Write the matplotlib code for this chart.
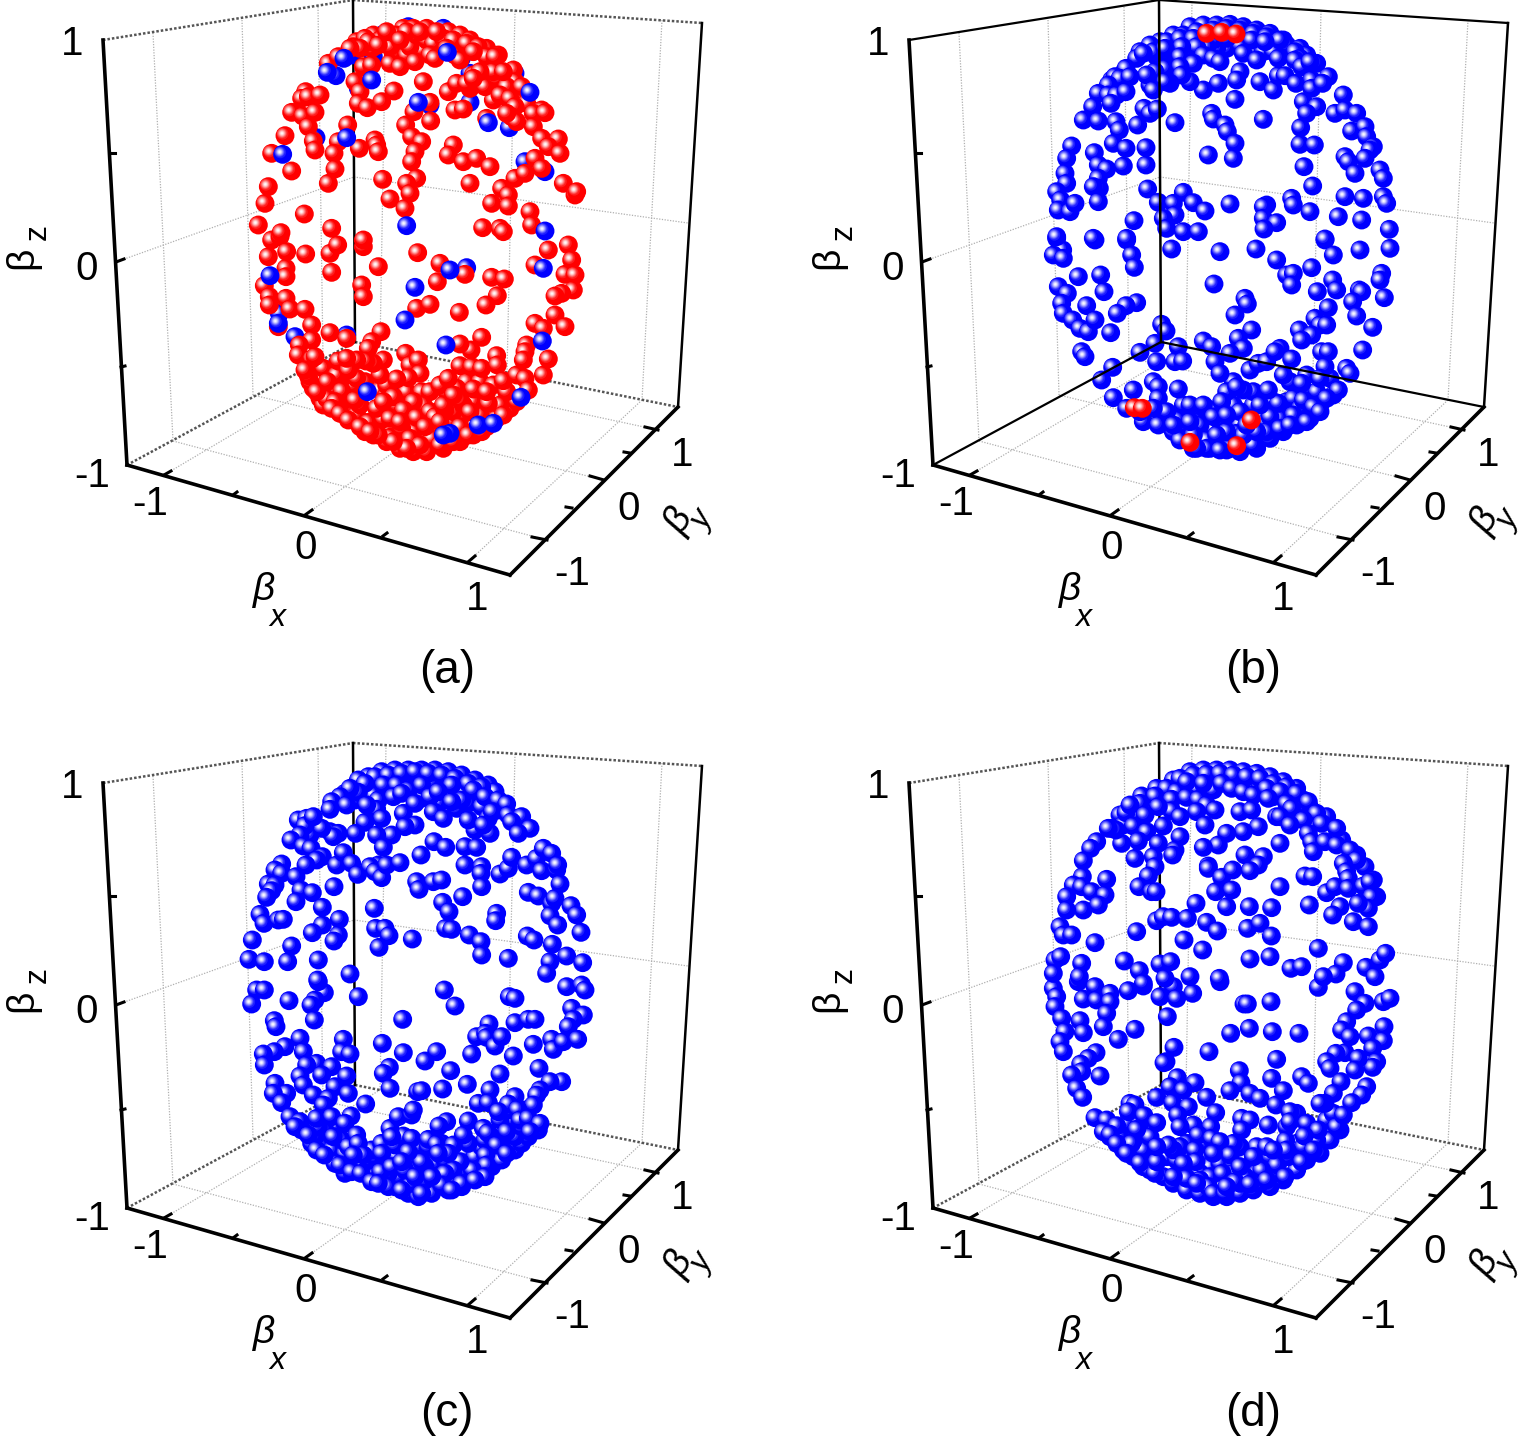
import numpy as np
import matplotlib
matplotlib.use("Agg")
import matplotlib.pyplot as plt

plt.rcParams['font.family'] = ['Liberation Sans', 'DejaVu Sans']

# ball centres, in 1/3 pixel steps inside each reading window
a_top_red = [(265,145),(295,125),(340,95),(385,80),(360,100),(450,95),(470,60),(510,95),(530,60),(560,75),(580,85),(610,70),(640,75),(680,85),(715,95),(740,125),(765,125),(480,155),(525,140),(570,120),(585,130),(645,120),(660,135),(370,155),(395,150),(345,200),(360,230),(355,265),(382,278),(425,260),(462,228),(550,200),(625,230),(650,205),(680,205),(700,180),(735,215),(770,190),(820,165),(825,200),(800,215),(780,240),(810,250),(825,275),(845,215),(645,285),(670,282),(570,262),(522,290),(497,330),(572,318),(515,365),(545,380),(525,410),(515,440),(530,490),(500,505),(510,535),(450,552),(495,580),(428,493),(197,230),(185,250),(205,245),(240,240),(155,292),(188,303),(225,292),(205,335),(323,330),(135,362),(295,380),(282,415),(285,462),(265,505),(358,400),(405,375),(410,390),(415,410),(220,378),(225,405),(95,415),(155,468),(85,515),(75,565),(193,597),(55,630),(123,653),(275,640),(640,390),(625,420),(670,440),(710,430),(750,455),(690,505),(755,565),(785,520),(805,540),(805,573),(825,490),(855,475),(870,590),(875,630),(728,638),(780,640),(790,650),(970,505),(1005,540),(1010,530),(905,285),(880,295),(915,293),(880,335),(905,370),(955,372),(925,395),(960,415),(885,430),(905,460),(815,305),(830,320),(800,295),(740,310),(330,100),(415,90),(500,50),(540,50),(590,50),(440,50),(480,75),(620,100),(700,110),(760,170),(720,170),(790,170),(700,190)]
a_top_red_dense = [(400,60),(420,75),(445,70),(490,40),(520,40),(560,40),(600,60),(625,50),(660,60),(690,75),(740,100),(775,120),(350,80),(375,70),(395,100),(460,120),(500,120),(545,105),(600,100),(450,145),(690,220),(720,195),(745,190),(780,215),(760,215),(790,200),(840,240),(860,265),(795,245),(760,255)]
a_top_blue_under = [(335,120),(288,182),(430,58),(355,220),(570,270),(580,115),(665,128),(655,65),(690,262),(808,338),(825,175),(690,175),(228,368),(855,440),(915,470),(505,35),(610,40),(545,60),(400,125)]
a_top_blue_over = [(312,130),(262,172),(395,195),(622,112),(745,323),(320,368),(128,418),(500,632),(915,648),(870,232),(535,262)]
a_bot_red = [(95,15),(120,5),(140,50),(85,65),(197,57),(270,55),(293,30),(275,112),(370,35),(370,15),(415,95),(533,53),(600,85),(592,140),(675,118),(755,127),(793,132),(772,182),(738,210),(985,30),(925,45),(995,75),(885,90),(975,118),(1005,120),(1000,165),(965,175),(945,183),(138,100),(138,125),(73,152),(88,185),(88,210),(138,190),(150,222),(195,223),(365,150),(370,185),(530,220),(570,208),(658,232),(945,240),(885,265),(975,275),(910,280),(115,275),(215,270),(215,315),(270,293),(320,310),(178,330),(175,360),(215,372),(225,365),(423,290),(395,320),(385,340),(497,355),(510,390),(535,375),(540,415),(505,428),(470,432),(420,420),(430,375),(400,385),(378,378),(350,375),(295,378),(325,405),(320,370),(205,422),(195,405),(230,470),(262,440),(305,468),(285,500),(275,520),(300,535),(325,555),(360,510),(345,495),(385,562),(360,575),(420,530),(430,552),(410,520),(450,607),(485,580),(460,485),(520,500),(490,525),(530,547),(510,610),(570,530),(585,545),(580,590),(615,525),(660,575),(600,450),(650,460),(660,495),(700,462),(745,505),(790,540),(690,530),(740,470),(660,392),(695,395),(725,400),(770,362),(772,390),(790,437),(830,420),(855,430),(860,330),(855,350),(850,375),(925,372),(910,420),(865,465),(725,307),(693,345),(660,327),(610,510),(640,480),(575,610),(540,630),(500,640),(600,630),(640,620),(460,620),(415,600),(390,590),(685,600),(725,590),(555,575),(450,550),(480,560),(430,500),(600,560),(625,430)]
a_bot_red_dense = [(240,490),(250,510),(290,520),(320,530),(345,545),(375,590),(400,600),(440,620),(480,640),(520,650),(560,650),(610,640),(660,620),(700,600),(740,575),(770,550),(810,520),(830,500),(220,460),(210,440),(255,470),(280,470),(340,450),(375,440),(420,465),(440,480),(470,510),(500,470),(545,470),(570,470),(620,470),(680,440),(720,440),(760,450),(800,470),(780,510),(720,540),(660,550),(630,560),(510,570),(470,590),(410,570),(350,540),(300,510),(260,490),(350,430),(300,440),(250,400),(290,420),(560,600),(600,600),(520,590),(450,580),(640,530),(700,500),(670,510),(550,510),(440,450)]
a_bot_blue_under = [(118,235),(165,305),(320,300),(290,390),(460,470),(512,482),(680,98),(490,620),(540,580),(635,560)]
a_bot_blue_over = [(90,122),(115,265),(382,470),(525,157),(495,255),(630,105),(618,330),(910,100),(907,318),(843,487),(715,570),(760,565),(630,595),(610,600)]

b_top_blue = [(430,60),(470,50),(520,45),(560,40),(600,45),(640,55),(680,65),(720,75),(380,80),(420,70),(460,70),(500,95),(470,95),(425,95),(635,75),(610,115),(650,135),(675,80),(340,110),(310,115),(375,100),(420,125),(490,120),(520,130),(540,140),(460,145),(715,130),(765,110),(780,130),(765,135),(785,155),(810,140),(375,160),(420,155),(345,170),(320,180),(258,160),(225,185),(240,190),(270,185),(600,170),(660,200),(590,195),(535,205),(490,225),(450,200),(425,180),(390,205),(375,200),(340,225),(205,210),(175,235),(205,240),(230,240),(258,230),(213,265),(158,275),(130,315),(175,318),(228,320),(238,345),(293,330),(312,280),(330,295),(352,282),(405,323),(515,295),(520,312),(555,330),(562,350),(585,385),(580,430),(505,420),(670,313),(700,225),(715,182),(735,182),(768,205),(585,253),(815,195),(815,220),(790,260),(830,275),(800,295),(782,338),(780,388),(823,390),(792,455),(818,513),(865,185),(848,205),(910,240),(885,295),(915,285),(950,295),(935,348),(975,335),(980,365),(1000,395),(990,405),(915,425),(925,440),(975,430),(945,475),(1020,465),(1030,490),(95,393),(80,430),(75,475),(80,505),(50,530),(62,555),(55,585),(90,590),(105,565),(163,413),(175,450),(200,462),(175,490),(178,520),(160,515),(175,560),(220,385),(258,400),(250,453),(318,398),(318,450),(323,522),(355,562),(430,532),(460,563),(495,588),(570,567),(400,565),(405,600),(370,610),(380,640),(430,650),(475,650),(282,617),(680,570),(670,575),(755,550),(760,570),(810,590),(670,610),(710,623),(672,642),(895,605),(965,615),(915,545),(970,550),(1030,545),(1040,565),(1048,643),(50,665),(160,670),(260,670),(855,672)]
b_top_blue_dense = [(450,35),(490,30),(530,30),(570,28),(610,35),(650,45),(690,55),(730,75),(400,60),(360,80),(330,90),(300,110),(290,130),(350,125),(390,130),(380,115),(440,110),(740,90),(780,100),(800,120),(640,105),(670,110),(700,110),(560,100),(530,100),(600,90),(560,70),(520,75),(480,80),(250,175),(215,195),(350,200),(330,210),(390,180),(830,145)]
b_top_red = [(500,55),(545,52),(588,57)]
b_bot_blue = [(50,10),(165,15),(260,15),(395,42),(68,45),(40,60),(70,70),(275,60),(283,97),(115,125),(182,120),(192,170),(55,155),(82,175),(65,205),(140,212),(290,203),(258,212),(232,235),(70,235),(98,255),(120,280),(145,290),(165,255),(212,293),(365,268),(378,288),(125,350),(135,365),(300,352),(345,325),(350,380),(415,335),(405,380),(428,378),(218,397),(185,435),(280,465),(340,440),(355,455),(415,462),(220,488),(355,490),(260,520),(310,560),(355,570),(540,50),(648,42),(710,75),(815,98),(740,120),(760,115),(755,150),(855,15),(880,60),(960,45),(1050,40),(1025,115),(1020,135),(878,135),(890,165),(832,170),(958,165),(965,170),(938,200),(1033,188),(950,243),(998,277),(865,218),(825,250),(840,270),(860,270),(778,285),(815,300),(785,315),(968,345),(522,147),(615,190),(622,207),(585,240),(635,285),(490,318),(515,335),(595,310),(610,340),(570,355),(525,380),(540,415),(630,405),(655,385),(680,380),(720,340),(705,350),(755,372),(730,420),(845,350),(865,350),(855,395),(920,400),(930,415),(785,445),(840,430),(895,465),(790,495),(860,490),(820,515),(760,540),(715,505),(690,545),(685,465),(610,465),(560,470),(590,455),(540,555),(480,570),(415,555),(450,510),(490,510),(545,500),(660,510),(500,615),(545,620),(590,595),(420,615),(500,640),(640,630),(680,590),(720,580),(600,530),(520,545),(380,530),(400,570),(460,600),(570,640),(610,600),(650,590),(750,570),(800,560),(840,530),(340,520),(300,530),(620,570),(560,590),(530,600),(470,640),(540,645),(450,560),(560,540)]
b_bot_blue_dense = [(400,590),(430,600),(470,620),(510,640),(560,645),(600,650),(650,640),(690,610),(730,590),(770,570),(810,550),(840,510),(880,480),(430,510),(460,530),(500,520),(530,530),(580,510),(560,560),(600,560),(640,590),(680,560),(720,550),(480,590),(520,580),(560,580),(600,570),(540,590),(470,560),(430,570),(390,540),(640,510),(700,500),(740,500),(760,490),(780,520),(820,480),(750,440),(800,420),(870,430),(830,470),(640,470),(580,440),(460,640),(620,620)]
b_bot_red = [(283,518),(307,520),(634,555),(450,622),(590,632)]

c_top_blue = [(420,50),(460,45),(500,40),(540,35),(580,40),(620,45),(660,55),(700,70),(740,80),(390,70),(445,75),(485,75),(520,90),(560,75),(650,75),(715,90),(475,110),(500,100),(370,97),(345,85),(585,110),(610,95),(750,110),(790,120),(815,132),(315,110),(290,125),(335,135),(285,148),(425,148),(395,135),(505,160),(540,130),(595,155),(625,175),(665,145),(680,120),(650,125),(772,155),(820,165),(860,170),(830,185),(885,205),(850,220),(765,220),(720,210),(700,180),(745,195),(440,175),(390,187),(540,195),(510,200),(470,225),(425,225),(362,220),(310,220),(295,230),(260,205),(210,197),(235,170),(195,225),(168,240),(205,258),(228,265),(262,290),(245,300),(213,315),(305,315),(325,278),(350,310),(368,343),(430,315),(405,320),(420,335),(440,353),(455,315),(495,308),(445,262),(558,285),(597,245),(632,262),(690,260),(725,262),(690,315),(740,320),(738,340),(740,380),(795,342),(820,325),(830,292),(875,315),(905,295),(920,332),(925,265),(950,280),(965,330),(968,315),(975,372),(880,397),(910,408),(950,430),(960,415),(1008,437),(1025,465),(945,467),(968,495),(1038,517),(140,312),(120,330),(140,340),(183,350),(100,372),(120,375),(110,392),(95,412),(198,390),(232,398),(183,425),(297,380),(262,442),(75,463),(87,490),(130,480),(145,478),(313,478),(262,495),(232,518),(310,525),(297,543),(52,540),(170,558),(42,598),(88,605),(158,605),(250,600),(248,660),(345,642),(418,445),(422,505),(450,505),(462,527),(432,562),(532,537),(545,365),(552,388),(595,365),(620,360),(623,427),(642,455),(683,410),(785,460),(782,482),(632,505),(650,508),(703,525),(738,545),(740,585),(820,595),(877,528),(897,540),(952,553),(995,588),(945,605),(935,640),(1043,608)]
c_top_blue_dense = [(440,35),(480,30),(520,30),(560,30),(600,30),(640,35),(680,45),(400,50),(370,60),(720,60),(760,75),(780,95),(470,60),(510,60),(590,65),(630,65),(670,80),(690,100),(720,120),(700,130),(610,130),(560,115),(450,95),(415,105),(360,120),(330,100),(430,120),(740,140),(790,150),(760,175),(860,195),(240,200),(285,215),(225,225),(190,180),(215,175)]
c_bot_blue = [(65,30),(88,30),(50,72),(162,62),(268,38),(250,5),(240,60),(228,75),(238,120),(370,50),(118,122),(123,140),(503,118),(628,30),(660,78),(823,50),(840,55),(995,20),(1040,15),(1050,30),(1010,85),(1045,105),(1015,118),(1000,140),(762,132),(840,128),(880,118),(900,118),(725,170),(752,160),(755,172),(780,198),(800,170),(895,193),(710,222),(835,228),(950,178),(955,208),(985,185),(1028,178),(195,175),(150,200),(118,215),(85,222),(205,215),(325,178),(320,215),(345,222),(442,190),(505,218),(570,243),(605,215),(245,250),(215,255),(290,260),(260,285),(88,255),(195,288),(205,315),(335,288),(300,320),(235,345),(340,340),(120,310),(155,340),(115,340),(140,368),(280,355),(265,375),(392,372),(463,262),(445,280),(465,325),(548,335),(560,332),(623,327),(647,272),(697,313),(765,330),(795,282),(912,265),(980,305),(945,305),(915,330),(905,345),(840,350),(895,375),(730,370),(760,368),(820,372),(848,388),(165,410),(195,425),(180,440),(245,415),(290,410),(348,408),(330,430),(220,465),(295,470),(365,465),(370,490),(245,510),(268,525),(385,525),(355,525),(315,555),(350,575),(378,580),(410,605),(437,575),(485,528),(480,495),(505,468),(530,475),(465,445),(470,470),(490,410),(530,405),(535,390),(635,425),(612,438),(700,423),(745,445),(758,458),(795,420),(855,420),(790,395),(880,415),(915,430),(885,455),(815,455),(785,495),(815,520),(752,525),(755,555),(712,570),(675,545),(655,570),(630,580),(560,545),(530,610),(580,478),(605,492),(655,495),(685,465),(640,520),(610,520),(520,515),(440,520),(460,620),(500,630),(560,640),(620,615),(680,610),(590,590),(470,560),(510,570),(500,545),(540,590),(750,590),(720,600),(650,630),(430,610)]
c_bot_blue_dense = [(230,490),(260,500),(290,510),(330,520),(300,550),(330,580),(390,560),(420,590),(450,600),(480,620),(520,640),(550,650),(590,640),(640,630),(680,620),(720,590),(770,560),(800,540),(840,510),(860,490),(880,470),(910,450),(450,540),(480,550),(510,530),(540,530),(570,520),(600,550),(630,540),(660,520),(690,520),(720,530),(740,500),(700,490),(570,560),(550,570),(520,590),(490,590),(460,580),(400,540),(420,530),(570,600),(610,590),(650,600),(690,570),(750,480),(840,470),(800,480),(770,470),(300,440),(320,480),(270,450),(340,500),(410,510),(440,490),(510,490),(550,500),(620,490),(580,500),(240,470),(200,450),(250,440),(860,440),(830,420),(830,390),(870,390)]

d_top_blue = [(420,55),(460,45),(500,42),(540,40),(580,45),(620,50),(660,55),(700,70),(740,80),(350,85),(380,85),(410,95),(440,65),(490,70),(545,70),(575,85),(610,95),(640,105),(680,85),(720,95),(770,100),(305,108),(345,108),(395,118),(440,112),(475,118),(500,135),(525,150),(470,155),(395,152),(355,140),(300,130),(258,158),(270,135),(315,165),(420,170),(600,155),(635,150),(685,115),(740,130),(755,145),(805,125),(830,160),(710,170),(720,170),(790,180),(845,190),(890,205),(750,195),(805,220),(815,245),(820,275),(855,245),(890,255),(930,270),(950,300),(910,310),(655,200),(610,215),(560,220),(495,195),(535,255),(490,262),(370,198),(420,230),(405,270),(398,285),(280,198),(320,215),(295,243),(245,250),(355,250),(228,210),(205,205),(170,245),(152,265),(130,302),(285,295),(340,290),(345,320),(325,348),(297,380),(335,395),(348,395),(505,318),(505,325),(545,352),(578,330),(615,285),(670,290),(655,315),(630,332),(720,250),(527,395),(575,390),(560,440),(468,430),(628,440),(695,443),(720,380),(795,348),(818,350),(808,435),(860,398),(885,380),(920,335),(925,355),(925,385),(970,378),(990,365),(995,410),(900,440),(878,465),(985,445),(955,430),(940,485),(985,500),(127,350),(200,358),(100,375),(125,380),(80,410),(155,395),(195,405),(130,450),(175,435),(80,450),(60,500),(70,525),(95,525),(165,548),(290,515),(350,482),(370,470),(395,472),(442,475),(500,487),(532,513),(432,540),(488,570),(623,505),(660,490),(694,528),(835,565),(630,597),(690,590),(753,625),(785,620),(910,608),(888,642),(978,622),(1020,600),(1037,580),(45,600),(62,590),(125,610),(253,603),(298,632),(360,612),(392,605),(40,640),(118,650),(450,650),(538,655),(375,655),(310,670),(850,650),(1005,650)]
d_top_blue_dense = [(450,35),(490,30),(530,30),(570,30),(610,35),(650,40),(690,50),(730,65),(770,85),(400,60),(430,80),(470,85),(520,90),(590,70),(630,75),(660,85),(700,110),(790,120),(810,145),(780,140),(860,170),(240,165),(290,165),(330,135),(370,120),(250,195),(215,205),(905,240),(950,285),(975,320),(1000,360),(1010,410)]
d_bot_blue = [(40,25),(50,50),(45,80),(115,5),(165,20),(130,57),(170,60),(210,40),(210,65),(265,32),(310,18),(360,50),(400,20),(410,55),(458,40),(540,5),(835,22),(945,35),(975,70),(950,90),(1030,65),(1050,55),(382,110),(200,100),(190,140),(285,148),(235,178),(120,122),(65,115),(130,158),(75,155),(60,185),(70,215),(612,72),(622,72),(693,65),(628,145),(572,160),(697,155),(777,160),(507,215),(402,202),(378,245),(372,248),(710,238),(920,125),(905,150),(930,170),(1032,140),(985,168),(1030,182),(998,205),(1010,245),(998,262),(168,218),(145,235),(122,252),(125,275),(95,285),(180,288),(110,325),(128,352),(915,218),(888,220),(860,245),(870,265),(955,235),(945,270),(903,305),(880,340),(980,320),(965,345),(935,368),(855,370),(840,370),(598,272),(603,308),(570,332),(695,295),(785,290),(805,310),(730,332),(630,340),(660,355),(708,375),(412,293),(465,308),(500,352),(390,320),(430,330),(350,352),(270,370),(285,375),(265,395),(312,407),(350,428),(398,368),(445,380),(413,405),(460,435),(420,440),(527,398),(512,440),(605,415),(630,420),(605,450),(685,435),(750,395),(750,425),(800,430),(835,450),(793,468),(890,440),(910,405),(165,413),(200,420),(230,437),(190,455),(210,463),(290,448),(275,490),(230,490),(260,520),(300,548),(345,580),(350,545),(475,465),(515,475),(540,485),(737,482),(745,530),(785,545),(820,510),(710,555),(665,570),(640,530),(570,525),(520,520),(465,510),(468,545),(400,510),(385,495),(430,550),(547,580),(615,590),(440,595),(400,590),(505,620),(520,640),(585,605),(630,612),(680,600),(735,590),(555,640),(470,610),(350,500),(560,620),(600,560),(740,510),(700,510)]
d_bot_blue_dense = [(250,510),(280,530),(310,560),(330,570),(370,590),(400,610),(440,630),(480,640),(520,650),(560,650),(600,640),(640,630),(690,620),(730,600),(770,570),(800,540),(840,520),(870,480),(900,450),(320,490),(350,520),(380,530),(410,540),(440,530),(490,530),(510,560),(540,550),(580,550),(620,540),(660,540),(690,530),(720,540),(650,500),(680,500),(600,500),(580,490),(490,490),(440,490),(420,500),(310,510),(280,480),(240,470),(210,470),(260,430),(300,430),(330,470),(440,570),(480,580),(510,590),(580,580),(650,580),(700,580),(760,520),(830,480),(770,490),(790,500),(740,440),(770,400),(860,420),(900,410),(880,400),(480,600),(600,610),(660,610)]

tick_labels = ['-1', '0', '1']
panel_names = ['(a)', '(b)', '(c)', '(d)']

W, H = 1520, 1437
panel_w, panel_h = 714, 694
centre_x, centre_y = 417, 237   # sphere centre inside a panel

BLUE = np.array([0.0, 0.0, 1.0])
RED = np.array([1.0, 0.0, 0.0])
# radius fraction, blend towards white, share of the highlight shift
LAYERS = [(1.0, 0.0, 0.0), (0.62, 0.12, 0.8), (0.52, 0.28, 1.0), (0.42, 0.48, 1.0), (0.32, 0.68, 1.0), (0.22, 0.85, 1.0), (0.12, 0.97, 1.0)]
BALL_S = 185


def to_panel(points, win_x, win_y, off_x, off_y):
    pts = np.array(points, dtype=float)
    u = win_x + pts[:, 0] / 3 - off_x - centre_x
    v = centre_y - (win_y + pts[:, 1] / 3 - off_y)
    return u, v


def draw_balls(ax, u, v, rgb, zorder):
    xs, ys, ss, cs = [], [], [], []
    for frac, white, shift in LAYERS:
        xs.append(u - 3.0 * shift)
        ys.append(v + 2.4 * shift)
        ss.append(np.full(len(u), BALL_S * frac ** 2))
        cs.append(np.tile(rgb * (1 - white) + white, (len(u), 1)))
    # stack so that each ball keeps its own layers together
    xs = np.array(xs).T.ravel()
    ys = np.array(ys).T.ravel()
    ss = np.array(ss).T.ravel()
    cs = np.array(cs).transpose(1, 0, 2).reshape(-1, 3)
    ax.scatter(xs, ys, s=ss, c=cs, linewidths=0, zorder=zorder, clip_on=False)


def P(x, y):
    return x - centre_x, centre_y - y


def seg(ax, a, b, **kw):
    pa, pb = P(*a), P(*b)
    ax.plot([pa[0], pb[0]], [pa[1], pb[1]], clip_on=False, solid_capstyle='projecting', **kw)


def label(ax, x, y, s, **kw):
    px, py = P(x, y)
    ax.text(px, py, s, ha='center', va='center', **kw)


def frame(ax, name, solid_back):
    grid = dict(color='#b0b0b0', lw=0.9, ls=(0, (1, 1.2)), zorder=1)
    # floor
    for a, b in [((164, 475), (380, 347)), ((305, 515), (507, 372)), ((468, 562), (642, 400)),
                 ((173, 441), (547, 540)), ((253, 395), (604, 480)), ((323, 358), (658, 430))]:
        seg(ax, a, b, **grid)
    # back walls
    for a, b in [((153, 33), (173, 441)), ((242, 20), (253, 395)), ((318, 7), (323, 358)),
                 ((386, 2), (380, 347)), ((515, 11), (507, 372)), ((662, 20), (642, 400)),
                 ((116, 262), (354, 177)), ((354, 177), (688, 223))]:
        seg(ax, a, b, **grid)

    if solid_back:
        back = dict(color='black', lw=1.6, zorder=20)
        vert_z = 20
    else:
        back = dict(color='#555555', lw=1.8, ls=(0, (1, 0.8)), zorder=2)
        vert_z = 2
    for a, b in [((103, 40), (353, 0)), ((353, 0), (702, 23)), ((127, 465), (355, 342)), ((355, 342), (678, 407))]:
        seg(ax, a, b, **back)
    seg(ax, (353, 0), (355, 342), color='black', lw=1.8, zorder=vert_z)
    seg(ax, (702, 23), (678, 407), color='black', lw=1.8, zorder=20)

    # front axes
    for a, b in [((103, 40), (127, 465)), ((127, 465), (510, 575)), ((510, 575), (678, 407))]:
        seg(ax, a, b, color='black', lw=2.6, zorder=21)
    ticks = [((164, 475), (171, 471)), ((305, 515), (312, 510)), ((468, 562), (475, 556)),
             ((233, 495), (237, 492)), ((383, 536), (387, 533)),
             ((547, 540), (532, 537)), ((604, 480), (590, 476)), ((658, 430), (645, 427)),
             ((572, 508), (566, 507)), ((630, 453), (624, 452)),
             ((116, 262), (124, 259)), ((111, 153), (115, 153)), ((121, 367), (125, 366))]
    for a, b in ticks:
        seg(ax, a, b, color='black', lw=2.2, zorder=21)

    fs = 29
    for (x, y), s in zip([(92, 476), (87, 269), (72, 44)], tick_labels):
        label(ax, x, y, s, fontsize=fs)
    for (x, y), s in zip([(150, 504), (306, 548), (477, 599)], tick_labels):
        label(ax, x, y, s, fontsize=fs)
    for (x, y), s in zip([(572, 574), (629, 509), (682, 455)], tick_labels):
        label(ax, x, y, s, fontsize=fs)

    label(ax, 22, 258, 'β', fontsize=28, rotation=90)
    label(ax, 38, 232, 'z', fontsize=23, rotation=90)
    label(ax, 264, 590, 'β', fontsize=28, style='italic')
    label(ax, 277, 618, 'x', fontsize=23, style='italic')
    label(ax, 680, 521, 'β', fontsize=28, style='italic', rotation=60)
    label(ax, 703, 521, 'y', fontsize=23, style='italic', rotation=60)
    label(ax, 447, 671, name, fontsize=33)


def make_panel(off_x, off_y, name, solid_back=False):
    ax = fig.add_axes([off_x / W, 1 - (off_y + panel_h) / H, panel_w / W, panel_h / H])
    ax.set_xlim(-centre_x, panel_w - centre_x)
    ax.set_ylim(centre_y - panel_h, centre_y)
    ax.axis('off')
    frame(ax, name, solid_back)
    return ax


fig = plt.figure(figsize=(W / 100, H / 100), dpi=100)

# (a)
ax = make_panel(0, 0, panel_names[0])
u, v = to_panel(a_bot_blue_under, 240, 235, 0, 0); draw_balls(ax, u, v, BLUE, 4)
u, v = to_panel(a_top_blue_under, 240, 15, 0, 0); draw_balls(ax, u, v, BLUE, 4)
u, v = to_panel(a_bot_red_dense, 240, 235, 0, 0); draw_balls(ax, u, v, RED, 5)
u, v = to_panel(a_top_red_dense, 240, 15, 0, 0); draw_balls(ax, u, v, RED, 5)
u, v = to_panel(a_bot_red, 240, 235, 0, 0); draw_balls(ax, u, v, RED, 6)
u, v = to_panel(a_top_red, 240, 15, 0, 0); draw_balls(ax, u, v, RED, 6)
u, v = to_panel(a_bot_blue_over, 240, 235, 0, 0); draw_balls(ax, u, v, BLUE, 7)
u, v = to_panel(a_top_blue_over, 240, 15, 0, 0); draw_balls(ax, u, v, BLUE, 7)

# (b)
ax = make_panel(806, 0, panel_names[1], solid_back=True)
u, v = to_panel(b_bot_blue_dense, 1040, 235, 806, 0); draw_balls(ax, u, v, BLUE, 4)
u, v = to_panel(b_top_blue_dense, 1040, 15, 806, 0); draw_balls(ax, u, v, BLUE, 4)
u, v = to_panel(b_bot_blue, 1040, 235, 806, 0); draw_balls(ax, u, v, BLUE, 5)
u, v = to_panel(b_top_blue, 1040, 15, 806, 0); draw_balls(ax, u, v, BLUE, 5)
u, v = to_panel(b_bot_red, 1040, 235, 806, 0); draw_balls(ax, u, v, RED, 6)
u, v = to_panel(b_top_red, 1040, 15, 806, 0); draw_balls(ax, u, v, RED, 6)

# (c)
ax = make_panel(0, 743, panel_names[2])
u, v = to_panel(c_bot_blue_dense, 235, 980, 0, 743); draw_balls(ax, u, v, BLUE, 4)
u, v = to_panel(c_top_blue_dense, 235, 760, 0, 743); draw_balls(ax, u, v, BLUE, 4)
u, v = to_panel(c_bot_blue, 235, 980, 0, 743); draw_balls(ax, u, v, BLUE, 5)
u, v = to_panel(c_top_blue, 235, 760, 0, 743); draw_balls(ax, u, v, BLUE, 5)

# (d)
ax = make_panel(806, 743, panel_names[3])
u, v = to_panel(d_bot_blue_dense, 1040, 980, 806, 743); draw_balls(ax, u, v, BLUE, 4)
u, v = to_panel(d_top_blue_dense, 1040, 760, 806, 743); draw_balls(ax, u, v, BLUE, 4)
u, v = to_panel(d_bot_blue, 1040, 980, 806, 743); draw_balls(ax, u, v, BLUE, 5)
u, v = to_panel(d_top_blue, 1040, 760, 806, 743); draw_balls(ax, u, v, BLUE, 5)

fig.savefig('out.png', dpi=100)
